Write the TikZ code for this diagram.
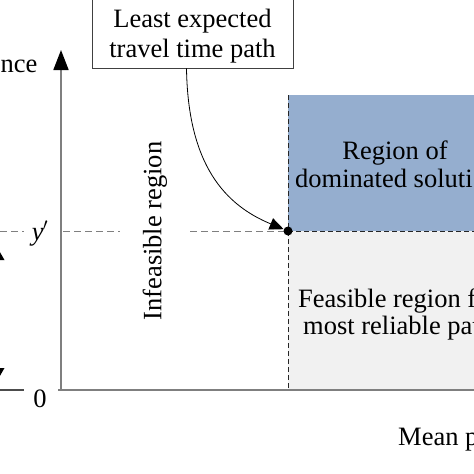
\documentclass[tikz,border=0pt]{standalone}
\usepackage{fontspec}
\setmainfont{Liberation Serif}
\usetikzlibrary{arrows.meta}
\definecolor{domblue}{HTML}{95AECF}
\definecolor{feasgray}{HTML}{F1F1F1}
\definecolor{axisgray}{HTML}{7F7F7F}
\tikzset{
  lbl/.style={font=\fontsize{26.5}{30}\selectfont, inner sep=0pt},
  axisline/.style={draw=axisgray, line width=1.8pt},
  gdash/.style={draw=axisgray, line width=0.9pt, dash pattern=on 7pt off 4pt},
  kdash/.style={draw=black!85, line width=0.9pt, dash pattern=on 5pt off 3pt},
  bigtip/.style={-{Triangle[length=20pt,width=15pt,color=black]}},
}
\begin{document}
\begin{tikzpicture}[x=1pt,y=-1pt]
\begin{scope}
\clip (0,0) rectangle (474,474);
\fill[white] (0,0) rectangle (474,474);
% regions
\fill[domblue] (288,95) rectangle (480,231);
\fill[feasgray] (288,231) rectangle (480,390);
% axes
\coordinate (orig) at (61,390);
\coordinate (ytop) at (61,50);
\coordinate (xend) at (480,390);
\draw[axisline] (58,390) -- (xend);
\draw[axisline, bigtip] (orig) -- (ytop);
% left partial elements
\draw[black!70, line width=1.2pt] (0,390) -- (24,390);
\fill[black] (-3,247) -- (4.5,260) -- (-10.5,260) -- cycle;
\fill[black] (-3,381) -- (4.5,368) -- (-10.5,368) -- cycle;
% dashed lines
\draw[gdash] (0,231) -- (24,231);
\draw[gdash] (63,231) -- (120,231);
\draw[gdash] (190,231) -- (288,231);
\draw[kdash] (288,231) -- (480,231);
\draw[kdash] (288,95) -- (288,390);
% labels
\node[lbl, anchor=base west] (nce) at (0.5,72) {nce};
\node[lbl, anchor=base] (yp) at (40,240) {\textit{y}\kern-1pt\raisebox{0pt}{$'$}};
\node[lbl, anchor=base] (zero) at (40,407) {0};
\node[lbl, rotate=90] (infeas) at (155,231) {Infeasible region};
\node[lbl, anchor=base] (reg1) at (395,159) {Region of};
\node[lbl, anchor=base west] (reg2) at (295,187) {dominated soluti};
\node[lbl, anchor=base west] (feas1) at (298,307) {Feasible region f};
\node[lbl, anchor=base west] (feas2) at (303,334) {most reliable pat};
\node[lbl, anchor=base west] (mean) at (398,445) {Mean p};
% box and dot
\node[draw=black!75, line width=0.8pt, minimum width=201pt, minimum height=100pt, inner sep=0pt] (box) at (192.5,18) {};
\node[lbl, anchor=base] (boxl1) at (192.5,27) {Least expected};
\node[lbl, anchor=base] (boxl2) at (192.5,57) {travel time path};
\node[circle, fill=black, inner sep=0pt, minimum size=9pt] (dot) at (288,231) {};
\draw[line width=0.8pt, -{Triangle[length=14pt,width=12pt]}] ([xshift=-6pt]box.south) .. controls (188,165) and (225,205) .. (dot);
\end{scope}
\pgfresetboundingbox
\useasboundingbox (0,0) rectangle (474,474);
\end{tikzpicture}
\end{document}
